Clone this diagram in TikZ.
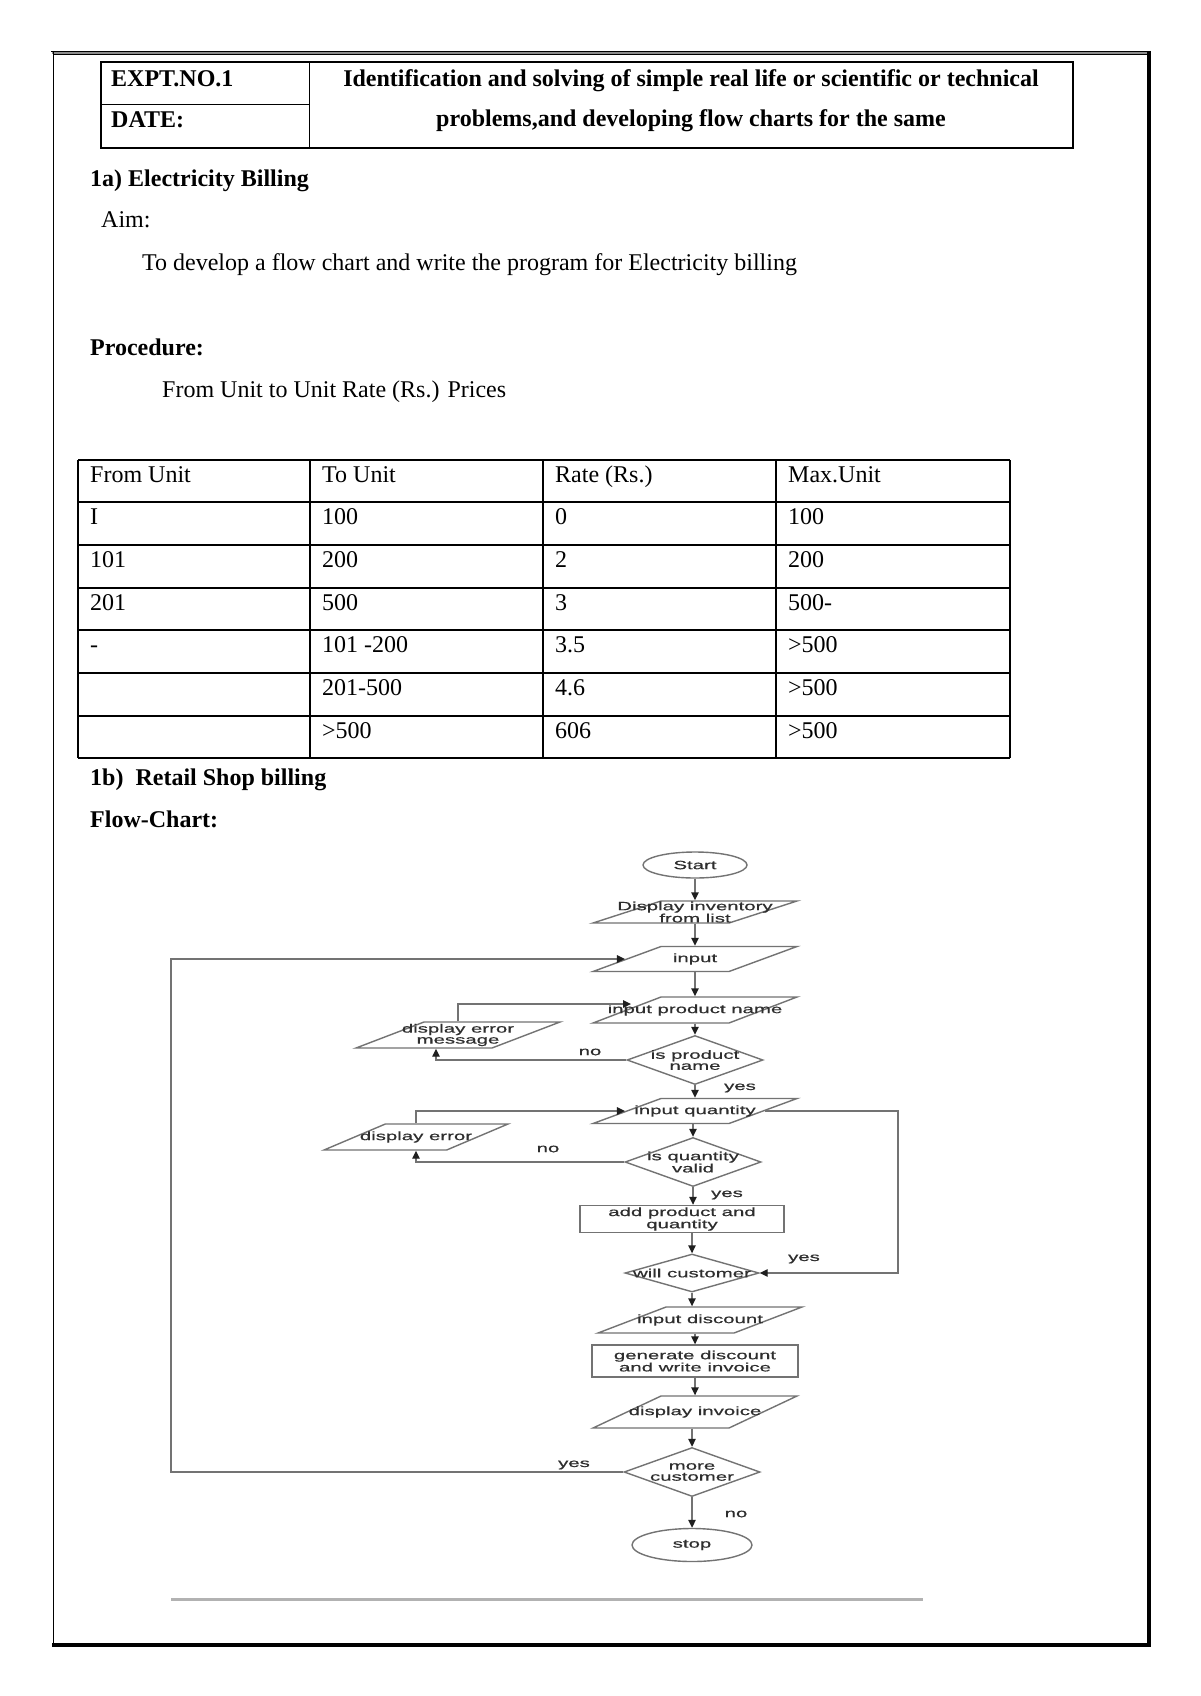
\documentclass[tikz,border=0pt]{standalone}
\usepackage{fontspec}
\setmainfont{Liberation Serif}
\newfontfamily\fcfont[FakeStretch=1.7,FakeBold=0.6]{Liberation Sans}
\usetikzlibrary{shapes.geometric,arrows.meta,calc}
\begin{document}
\begin{tikzpicture}[x=1pt,y=-1pt,
  txt/.style={inner sep=0pt, anchor=base west, font=\fontsize{24}{28}\selectfont},
  txtb/.style={inner sep=0pt, anchor=base west, font=\fontsize{24}{28}\selectfont\bfseries},
  txtc/.style={inner sep=0pt, anchor=base, font=\fontsize{24}{28}\selectfont\bfseries},
  fct/.style={font=\fcfont\fontsize{12}{11}\selectfont, text=black!82, align=center, inner sep=0pt},
  fcl/.style={draw=black!55, line width=1.4pt},
  fca/.style={fcl, -{Triangle[length=8pt,width=7.5pt,color=black!88]}},
  io/.style={fcl, trapezium, trapezium left angle=45, trapezium right angle=135, trapezium stretches=true, inner sep=1pt},
  dec/.style={fcl, diamond, inner sep=1pt},
  term/.style={fcl, ellipse, inner sep=1pt},
  proc/.style={fcl, rectangle, inner sep=1pt},
  tline/.style={line width=1.6pt},
]
\useasboundingbox[fill=white] (0,0) rectangle (1200,1696);

% page border
\draw[black!45, line width=3pt] (52,52.5) -- (1150,52.5);
\draw[line width=0.6pt] (51,51) -- (1150,51);
\draw[line width=0.6pt] (53,54) -- (1148,54);
\draw[line width=1.2pt] (53.5,51) -- (53.5,1646);
\draw[line width=4pt] (1148.5,51) -- (1148.5,1646.5);
\draw[line width=4pt] (52,1644.5) -- (1150.5,1644.5);

% header table
\draw[line width=2.5pt] (101,62) rectangle (1073,148);
\draw[line width=1pt] (309,62) -- (309,148);
\draw[line width=1pt] (101,105) -- (309,105);
\node[txtb] (expt) at (111,87) {EXPT.NO.1};
\node[txtb] (date) at (111,128) {DATE:};
\node[txtc] (title1) at (691,87) {Identification and solving of simple real life or scientific or technical};
\node[txtc] (title2) at (691,127) {problems,and developing flow charts for the same};

% text
\node[txtb] (s1a) at (90,187) {1a)\mdseries{}\ \bfseries Electricity Billing};
\node[txt] (aim) at (101,228) {Aim:};
\node[txt] (aimtxt) at (142,270) {To develop a flow chart and write the program for Electricity billing};
\node[txtb] (proc) at (90,355) {Procedure:};
\node[txt] (ptxt) at (162,397) {From Unit to Unit Rate (Rs.) Prices};

% electricity table
\foreach \yy in {460,502,545,588,630,673,716,758} \draw[tline] (78,\yy) -- (1010,\yy);
\foreach \xx in {78,310,543,776,1010} \draw[tline] (\xx,460) -- (\xx,758);
\node[txt] (c11) at (90,482) {From Unit};
\node[txt] (c12) at (322,482) {To Unit};
\node[txt] (c13) at (555,482) {Rate (Rs.)};
\node[txt] (c14) at (788,482) {Max.Unit};
\node[txt] (c21) at (90,524) {I};
\node[txt] (c22) at (322,524) {100};
\node[txt] (c23) at (555,524) {0};
\node[txt] (c24) at (788,524) {100};
\node[txt] (c31) at (90,567) {101};
\node[txt] (c32) at (322,567) {200};
\node[txt] (c33) at (555,567) {2};
\node[txt] (c34) at (788,567) {200};
\node[txt] (c41) at (90,610) {201};
\node[txt] (c42) at (322,610) {500};
\node[txt] (c43) at (555,610) {3};
\node[txt] (c44) at (788,610) {500-};
\node[txt] (c51) at (90,652) {-};
\node[txt] (c52) at (322,652) {101 -200};
\node[txt] (c53) at (555,652) {3.5};
\node[txt] (c54) at (788,652) {>500};
\node[txt] (c62) at (322,695) {201-500};
\node[txt] (c63) at (555,695) {4.6};
\node[txt] (c64) at (788,695) {>500};
\node[txt] (c72) at (322,738) {>500};
\node[txt] (c73) at (555,738) {606};
\node[txt] (c74) at (788,738) {>500};

\node[txtb] (s1b) at (90,785) {1b)\mdseries{}\ \ \bfseries Retail Shop billing};
\node[txtb] (fch) at (90,827) {Flow-Chart:};

% flowchart nodes
\node[term, minimum width=104pt, minimum height=26pt, label={[fct]center:Start}] (start) at (695,865) {};
\node[io, minimum width=204pt, minimum height=22pt, label={[fct]center:{Display inventory\\from list}}] (disp) at (695,912) {};
\node[io, minimum width=204pt, minimum height=25pt, label={[fct]center:input}] (input) at (695,959) {};
\node[io, minimum width=204pt, minimum height=26pt, label={[fct]center:input product name}] (pname) at (695,1010) {};
\node[dec, minimum width=136pt, minimum height=49pt, label={[fct]center:{is product\\name}}] (isname) at (695,1060) {};
\node[io, minimum width=204pt, minimum height=26pt, label={[fct]center:{display error\\message}}] (err1) at (458,1035) {};
\node[io, minimum width=204pt, minimum height=25pt, label={[fct]center:input quantity}] (qty) at (695,1111) {};
\node[io, minimum width=184pt, minimum height=26pt, label={[fct]center:display error}] (err2) at (416,1137) {};
\node[dec, minimum width=136pt, minimum height=49pt, label={[fct]center:{is quantity\\valid}}] (isqty) at (693,1162) {};
\node[proc, minimum width=204pt, minimum height=27pt, label={[fct]center:{add product and\\quantity}}] (add) at (682,1219) {};
\node[dec, minimum width=134pt, minimum height=38pt, label={[fct]center:will customer}] (will) at (692,1273) {};
\node[io, minimum width=204pt, minimum height=26pt, label={[fct]center:input discount}] (disc) at (700,1320) {};
\node[proc, minimum width=206pt, minimum height=32pt, label={[fct]center:{generate discount\\and write invoice}}] (gen) at (695,1361) {};
\node[io, minimum width=204pt, minimum height=32pt, label={[fct]center:display invoice}] (dinv) at (695,1412) {};
\node[dec, minimum width=136pt, minimum height=49pt, label={[fct]center:{more\\customer}}] (more) at (692,1472) {};
\node[term, minimum width=120pt, minimum height=33pt, label={[fct]center:stop}] (stop) at (692,1545) {};

% coordinates for loops
\coordinate (L1) at (171,1472);
\coordinate (L2) at (171,959);
\coordinate (R1) at (898,1111);
\coordinate (R2) at (898,1273);

% main flow
\draw[fca] (start) -- (disp);
\draw[fca] (disp) -- (input);
\draw[fca] (input) -- (pname);
\draw[fca] (pname) -- (isname);
\draw[fca] (isname) -- (qty);
\draw[fca] (qty.south -| isqty.north) -- (isqty.north);
\draw[fca] (isqty.south) -- (isqty.south |- add.north);
\draw[fca] (add.south -| will.north) -- (will.north);
\draw[fca] (will.south) -- (will.south |- disc.north);
\draw[fca] (disc.south -| gen.north) -- (gen.north);
\draw[fca] (gen) -- (dinv);
\draw[fca] (dinv.south -| more.north) -- (more.north);
\draw[fca] (more) -- (stop);

% loops
\draw[fca] (isname.west) -| ([xshift=-22pt]err1.south);
\draw[fca] (err1.north) |- ($(pname.west)+(6,-6)$);
\draw[fca] (isqty.west) -| (err2.south);
\draw[fca] (err2.north) |- (qty.west);
\draw[fca] (qty.east) -- (R1) -- (R2) -- (will.east);
\draw[fca] (more.west) -- (L1) -- (L2) -- (input);

% flow labels
\node[fct] (no1) at (590,1052) {no};
\node[fct] (yes1) at (740,1088) {yes};
\node[fct] (no2) at (548,1149) {no};
\node[fct] (yes2) at (727,1195) {yes};
\node[fct] (yes3) at (804,1259) {yes};
\node[fct] (yes4) at (574,1465) {yes};
\node[fct] (no3) at (736,1514) {no};

% bottom rule
\draw[black!30, line width=3pt] (171,1599) -- (923,1599);
\end{tikzpicture}
\end{document}
